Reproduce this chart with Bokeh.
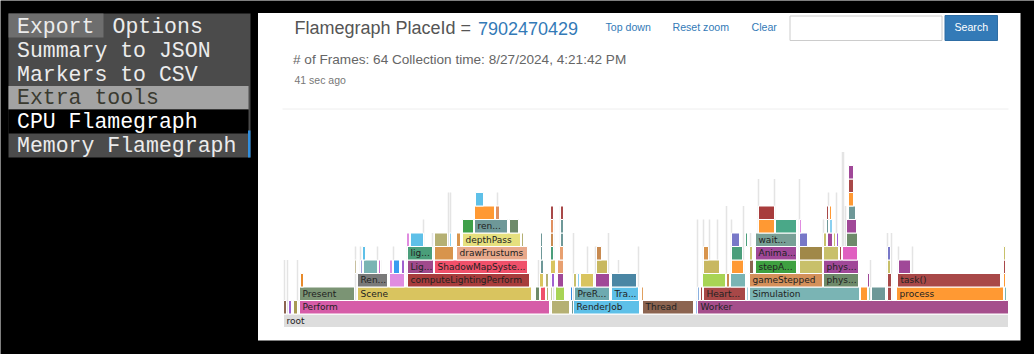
from bokeh.plotting import figure, ColumnDataSource
from bokeh.models import Range1d
from bokeh.core.properties import value
from bokeh.embed import file_html
from bokeh.resources import INLINE

# ---------------- flamegraph data: (label, start sample, width in samples, colour) per stack depth
depth0 = [("root", 0, 725, "#dddddd")]
depth1 = [
    ("", 0, 3, "#8c6450"), ("", 5, 3, "#a060d0"), ("", 10, 4, "#a89a55"),
    ("Perform", 16, 250, "#d65ca8"), ("", 268, 18, "#b5b073"), ("", 288, 2, "#6e9898"),
    ("RenderJob", 290, 66, "#5ec0e8"), ("Thread", 359, 51, "#8c6450"),
    ("", 412, 1.5, "#3a78e0"), ("Worker", 414, 311, "#a54e8c"),
]
depth2 = [
    ("Present", 16, 55, "#7b9474"), ("Scene", 74, 174, "#d9c45f"),
    ("", 252, 4, "#6e8a6a"), ("", 257, 5, "#f0506a"), ("", 263, 2, "#b5b073"),
    ("", 267, 2, "#c8d0a0"), ("", 272, 9, "#a8d455"), ("", 287, 2, "#3a8ee0"),
    ("PreR...", 291, 35, "#6eaab0"), ("Tra...", 328, 27, "#5ec0e8"), ("", 358, 2, "#e0a060"),
    ("", 414, 2, "#8ab0e0"), ("", 417, 2, "#a84848"), ("Heart...", 420, 42, "#a84848"),
    ("", 463, 2, "#a8d0e0"), ("Simulation", 466, 110, "#7ab4b4"), ("", 577, 7, "#ff9933"),
    ("", 585, 1.5, "#4a9e7a"), ("", 588, 14, "#6e9898"), ("", 604, 4, "#a84848"),
    ("process", 613, 107, "#ff9933"), ("", 721, 2, "#7ab4b4"),
]
depth3 = [
    ("", 17, 3, "#e88a2a"), ("Ren...", 74, 30, "#7a7a7a"), ("", 106, 15, "#e08ce0"),
    ("computeLightingPerform", 124, 122, "#a83c3c"), ("", 256, 4, "#d9c45f"),
    ("", 262, 3, "#b5b073"), ("", 268, 3, "#a060d0"), ("", 274, 6, "#a04898"),
    ("", 290, 3, "#c8c06a"), ("", 294, 2, "#8ad0f0"), ("", 297, 13, "#d9c45f"),
    ("", 312, 14, "#a04898"), ("", 328, 25, "#4a86a4"), ("", 419, 23, "#a8d455"),
    ("", 443, 3, "#c88a50"), ("", 447, 15, "#7ab4b4"), ("gameStepped", 466, 73, "#d4905a"),
    ("phys...", 540, 35, "#6e8a6a"), ("", 584, 2, "#a04898"), ("", 604, 4, "#a84848"),
    ("task()", 614, 103, "#a84848"), ("", 720, 2, "#ff9933"),
]
depth4 = [
    ("", 71, 2, "#c8c0a0"), ("", 77, 2, "#a0a0e0"), ("", 80, 14, "#7ab4b4"),
    ("", 95, 2, "#d070d0"), ("", 106, 3, "#e08ce0"), ("", 110, 6, "#3a9cf0"),
    ("", 118, 3, "#a060d0"), ("Lig...", 124, 26, "#a04a8c"),
    ("ShadowMapSyste...", 151, 93, "#f0506a"), ("", 257, 3, "#6e9898"),
    ("", 267, 5, "#d9c45f"), ("", 274, 6, "#e8a070"), ("", 313, 11, "#c8b860"),
    ("", 420, 16, "#c8b860"), ("", 448, 12, "#ff9933"), ("", 466, 4, "#8c6450"),
    ("stepA...", 472, 41, "#3ea040"), ("", 516, 23, "#c8c06a"),
    ("phys...", 540, 35, "#a04898"), ("", 604, 3, "#c8c06a"), ("", 615, 12, "#a04898"),
    ("", 720, 2, "#a84848"),
]
depth5 = [
    ("", 79, 3, "#5ec0e8"), ("lig...", 124, 25, "#4a9e7a"), ("", 151, 19, "#d8944c"),
    ("drawFrustums", 173, 71, "#e8a88a"), ("", 257, 2, "#6e9898"), ("", 267, 3, "#4a9e7a"),
    ("", 276, 4, "#e8a070"), ("", 313, 5, "#c88a50"), ("", 420, 5, "#d8944c"),
    ("", 448, 11, "#4a9e7a"), ("", 466, 3, "#c8c06a"), ("Anima...", 472, 41, "#a04898"),
    ("", 516, 23, "#a08848"), ("", 540, 15, "#c8c06a"), ("", 556, 2, "#a84848"),
    ("", 559, 15, "#e060c0"), ("", 604, 3, "#7878c8"), ("", 720, 2, "#c8c06a"),
]
depth6 = [
    ("", 123, 3, "#e08ce0"), ("", 127, 13, "#5ec0e8"), ("", 151, 13, "#b5b073"),
    ("", 166, 2, "#8ad0f0"), ("", 173, 4, "#d8944c"), ("depthPass", 179, 58, "#e6e07e"),
    ("", 238, 2, "#b5b073"), ("", 257, 2, "#6e9898"), ("", 267, 3, "#c88a50"),
    ("", 277, 3, "#6e9898"), ("", 448, 8, "#7878c8"), ("", 462, 2, "#4a9e7a"),
    ("wait...", 472, 41, "#78a096"), ("", 516, 8, "#7878c8"), ("", 540, 3, "#c8c06a"),
    ("", 544, 5, "#a04898"), ("", 550, 2, "#c8c06a"), ("", 553, 2, "#a060d0"),
    ("", 563, 11, "#6e8a6a"),
]
depth7 = [
    ("", 179, 11, "#3fa04a"), ("ren...", 191, 33, "#6e9898"), ("", 226, 9, "#6e8a6a"),
    ("", 267, 3, "#e09060"), ("", 277, 3, "#6e9898"), ("", 475, 16, "#ff9933"),
    ("", 492, 21, "#4aa888"), ("", 516, 2, "#e08ce0"), ("", 543, 2, "#6e9898"),
    ("", 546, 3, "#8ad0f0"), ("", 563, 10, "#a04898"),
]
depth8 = [
    ("", 191, 20, "#ff9933"), ("", 212, 4, "#e09060"), ("", 267, 3, "#a84848"),
    ("", 277, 3, "#a84848"), ("", 475, 16, "#a83c3c"), ("", 543, 2, "#a84848"),
    ("", 546, 2, "#ff9933"), ("", 565, 7, "#6e9898"),
]
depth9 = [("", 192, 8, "#5ec0e8"), ("", 565, 5, "#ff9933")]
depth10 = [("", 565, 5, "#a84848")]
depth11 = [("", 565, 5, "#a04898")]
stack = [depth0, depth1, depth2, depth3, depth4, depth5, depth6,
         depth7, depth8, depth9, depth10, depth11]

# tiny frames (too narrow to draw) : sample position and stack height
tiny_x = [1, 4, 14, 72, 77, 94, 97, 110, 124, 140, 149, 165, 167, 214, 216, 242, 255,
          268, 270, 277, 290, 304, 312, 325, 335, 355, 414, 420, 426, 434, 443, 448,
          460, 467, 475, 491, 516, 540, 545, 553, 559, 560, 562, 587, 604, 608, 615,
          629, 721]
tiny_top = [5, 5, 5, 6, 6, 6, 5, 6, 7, 8, 7, 10, 10, 10, 8, 6, 5,
            8, 8, 9, 7, 6, 6, 7, 5, 6, 8, 8, 8, 8, 9, 8,
            9, 7, 11, 11, 11, 8, 10, 10, 13, 13, 9, 5, 7, 7, 6,
            6, 6]

# ---------------- page texts
menu_items = ["Summary to JSON", "Markers to CSV", "Extra tools", "CPU Flamegraph", "Memory Flamegraph"]
title_text = "Flamegraph PlaceId = "
place_id = "7902470429"
subtitle = "# of Frames: 64 Collection time: 8/27/2024, 4:21:42 PM"
age_text = "41 sec ago"
links = ["Top down", "Reset zoom", "Clear"]

W, H = 1034, 354
ROOT_LEFT_PX, ROOT_BOTTOM_PX, ROW_PX = 283, 327, 13.5

p = figure(width=W, height=H, x_range=Range1d(0, W), y_range=Range1d(H, 0),
           output_backend="svg", toolbar_location=None, min_border=0,
           x_axis_location=None, y_axis_location=None)
p.xgrid.visible = False
p.ygrid.visible = False
p.background_fill_color = "black"
p.border_fill_color = "black"
p.outline_line_color = None
p.extra_x_ranges = {"fx": Range1d(-ROOT_LEFT_PX, W - ROOT_LEFT_PX)}
p.extra_y_ranges = {"fy": Range1d(-(H - ROOT_BOTTOM_PX) / ROW_PX, ROOT_BOTTOM_PX / ROW_PX)}

# ---- left menu
p.quad(left=[8], right=[250], top=[13], bottom=[157], fill_color="#4b4b4b", line_color=None)
p.quad(left=[8], right=[103], top=[13], bottom=[37], fill_color="#6e6e6e", line_color=None)
p.quad(left=[8], right=[248], top=[85.5], bottom=[109], fill_color="#a3a3a3", line_color=None)
p.quad(left=[8], right=[248], top=[109], bottom=[133], fill_color="#000000", line_color=None)
p.quad(left=[247.5], right=[250], top=[130], bottom=[157], fill_color="#2f8fe0", line_color=None)
mono = value("Liberation Mono")
p.text(x=[16.5, 112], y=[26.5, 26.5], text=["Export", "Options"], text_font=mono,
       text_font_size="21.5px", text_color="#ececec", text_baseline="alphabetic")
menu_y = [50.5, 74.2, 97.5, 121.4, 145.5]
menu_col = ["#ececec", "#ececec", "#3a3a30", "#ffffff", "#ececec"]
p.text(x=[16.5] * 5, y=menu_y, text=menu_items, text_font=mono, text_font_size="21.5px",
       text_color=menu_col, text_baseline="alphabetic")

# ---- white panel and header
p.quad(left=[257.5], right=[1020], top=[12.5], bottom=[340], fill_color="white", line_color=None)
sans = value("Liberation Sans")
p.text(x=[294], y=[27.5], text=[title_text], text_font=sans, text_font_size="18px",
       text_color="#555555", text_baseline="alphabetic")
p.text(x=[477.5], y=[27.5], text=[place_id], text_font=sans, text_font_size="18px",
       text_color="#337ab7", text_baseline="alphabetic")
p.text(x=[292.5], y=[59], text=[subtitle], text_font=sans, text_font_size="13.6px",
       text_color="#666666", text_baseline="alphabetic")
p.text(x=[294], y=[79.5], text=[age_text], text_font=sans, text_font_size="10.5px",
       text_color="#777777", text_baseline="alphabetic")
p.text(x=[605, 672, 751], y=[26.8] * 3, text=links, text_font=sans, text_font_size="10.6px",
       text_color="#337ab7", text_baseline="alphabetic")
p.quad(left=[789.5], right=[941.5], top=[15.5], bottom=[40], fill_color="white", line_color="#cccccc")
p.quad(left=[944.5], right=[997], top=[15], bottom=[40], fill_color="#337ab7", line_color="#2e6da4")
p.text(x=[970.8], y=[26.8], text=["Search"], text_font=sans, text_font_size="10.6px",
       text_color="white", text_align="center", text_baseline="alphabetic")
p.segment(x0=[282], x1=[1008], y0=[108.5], y1=[108.5], line_color="#eeeeee", line_width=1)

# ---- flamegraph
p.segment(x0=tiny_x, x1=tiny_x, y0=[1] * len(tiny_x), y1=tiny_top, line_color="#e4e4e4",
          line_width=1.5, x_range_name="fx", y_range_name="fy")

rows = dict(left=[], right=[], bottom=[], top=[], color=[], name=[], mid=[])
for d, frames in enumerate(stack):
    for name, start, width, color in frames:
        rows["left"].append(start)
        rows["right"].append(start + width)
        rows["bottom"].append(d)
        rows["top"].append(d + 1)
        rows["mid"].append(d + 0.5)
        rows["color"].append(color)
        rows["name"].append(name)
src = ColumnDataSource(rows)
p.quad(left="left", right="right", bottom="bottom", top="top", source=src,
       fill_color="color", line_color="white", line_width=1,
       x_range_name="fx", y_range_name="fy")
p.text(x="left", y="mid", text="name", source=src, x_offset=3,
       text_font=value("DejaVu Sans"), text_font_size="9px", text_color="#222222",
       text_baseline="middle", x_range_name="fx", y_range_name="fy")

open("out.html", "w").write(file_html(p, INLINE))
